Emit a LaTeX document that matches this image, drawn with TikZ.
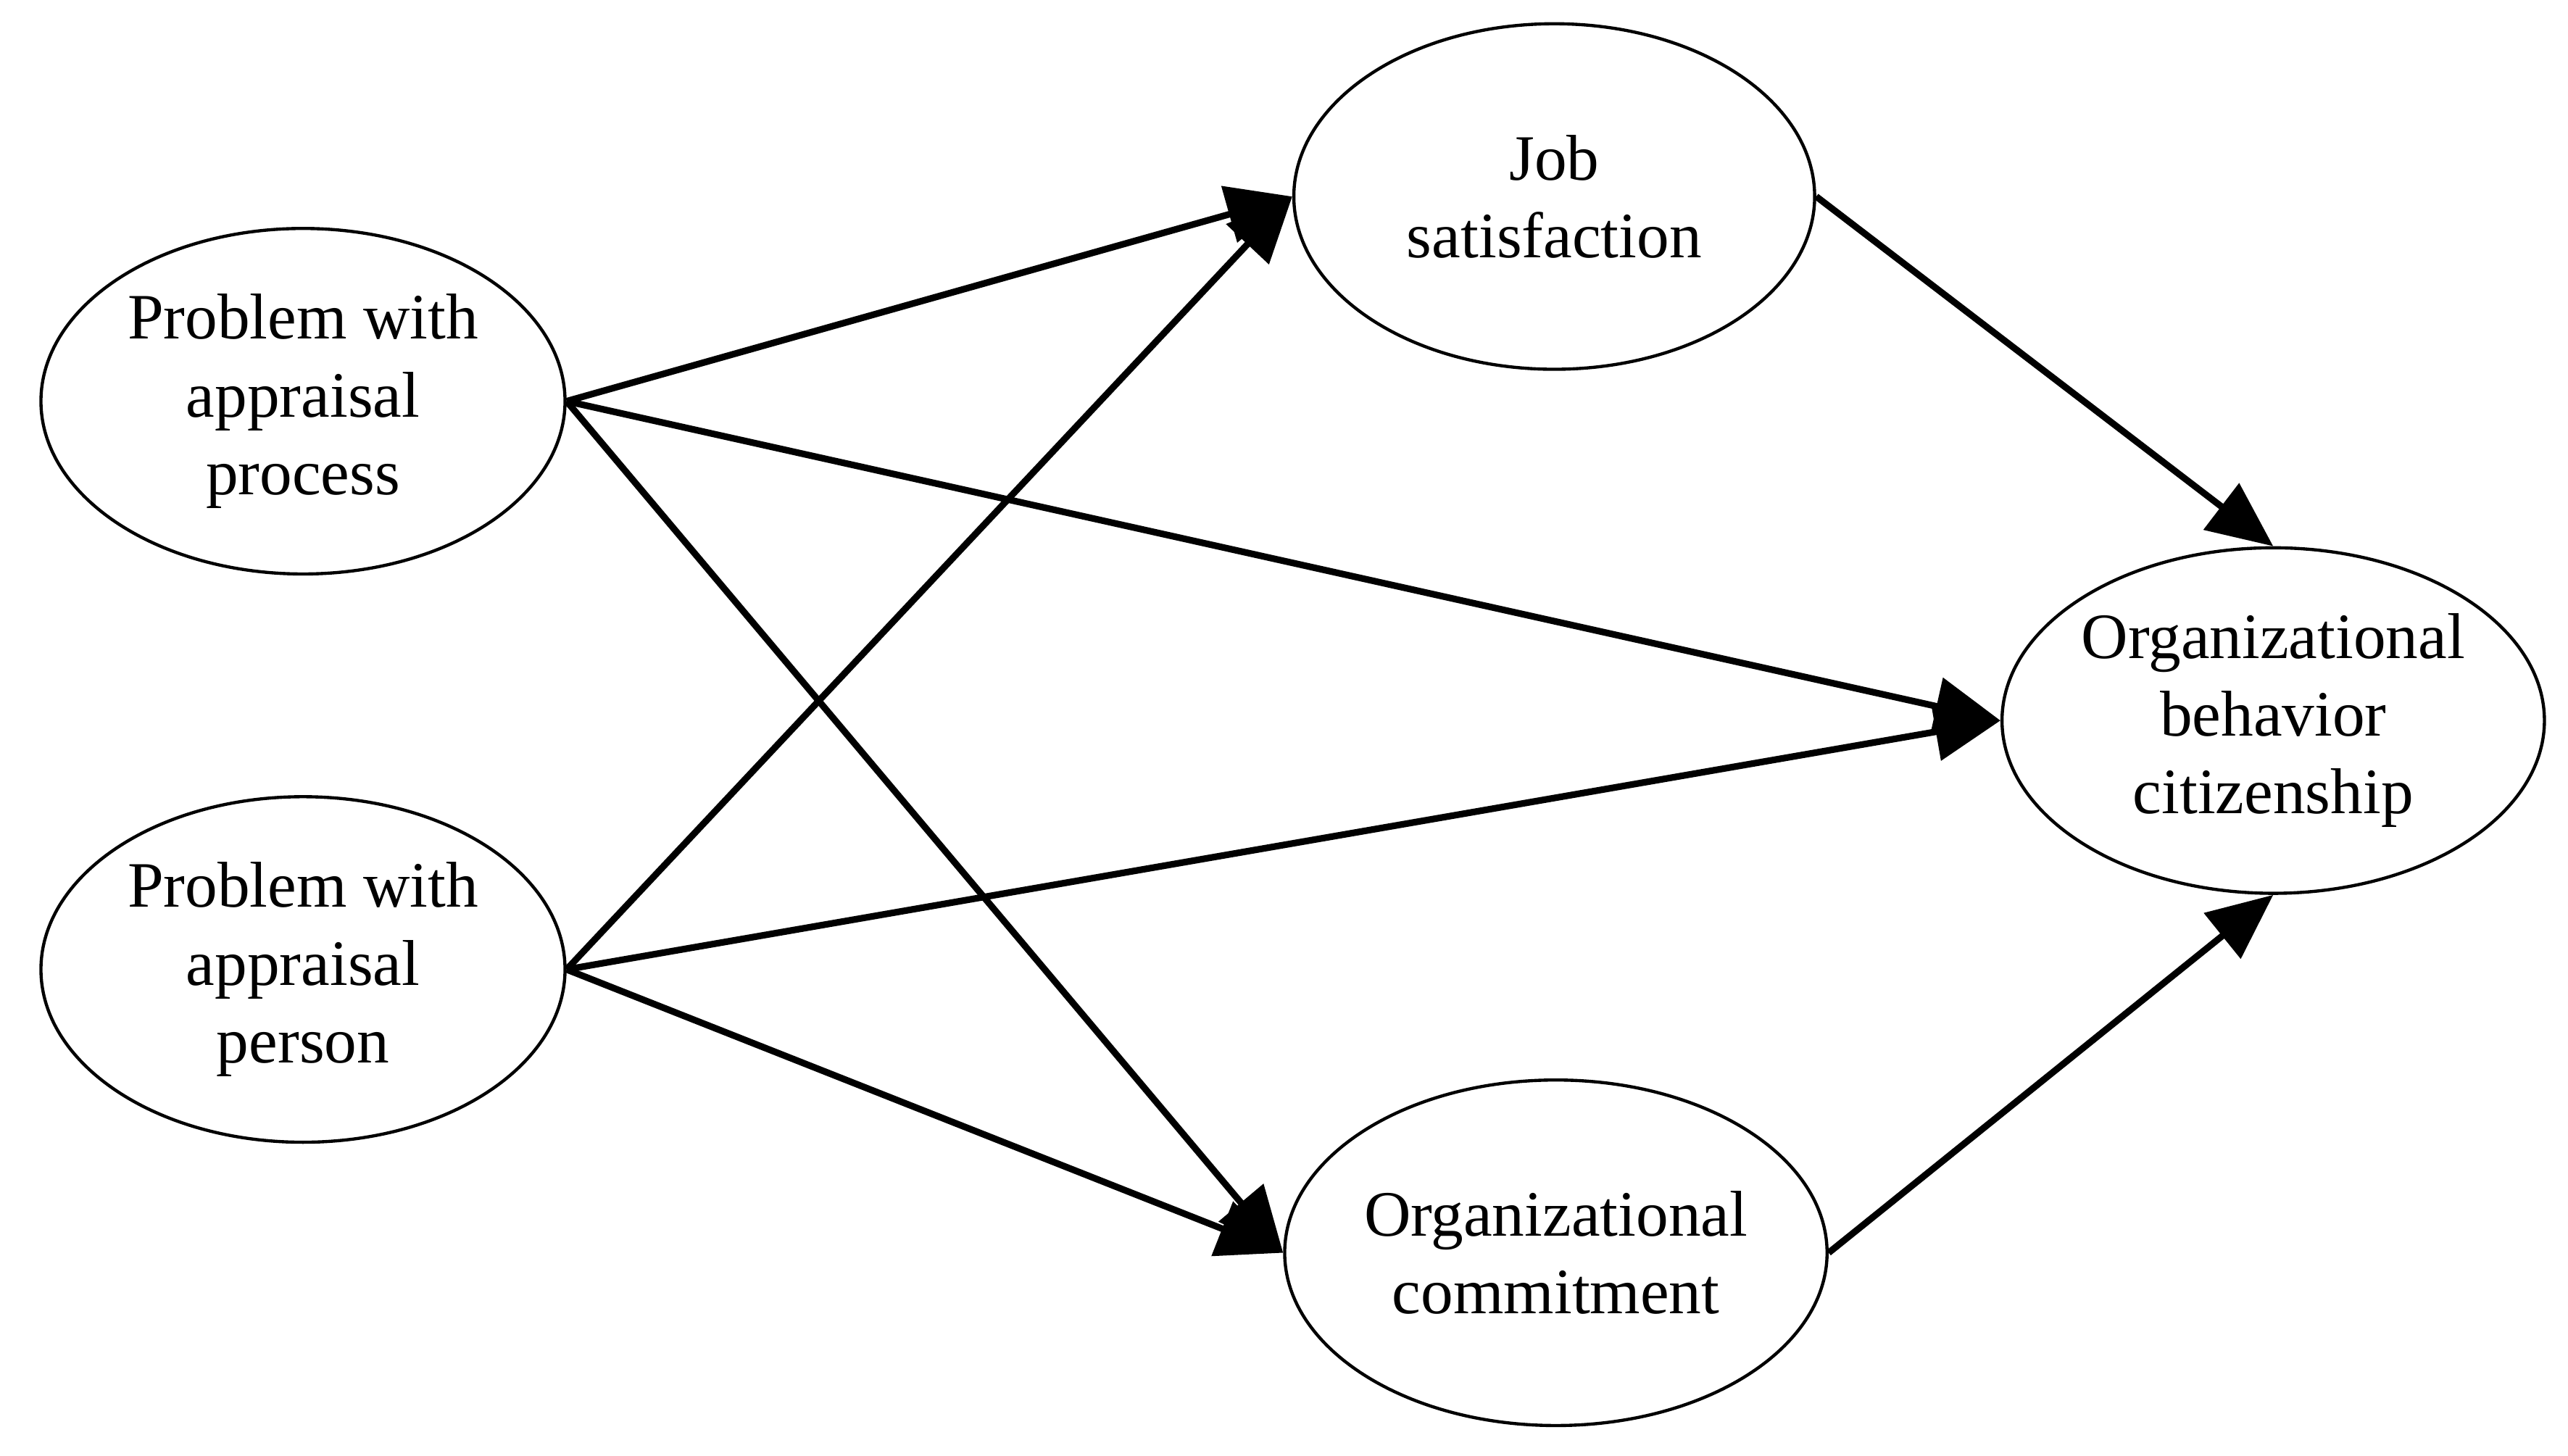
\documentclass[tikz,border=0pt]{standalone}
\usepackage{fontspec}
\setmainfont{Liberation Serif}
\usetikzlibrary{shapes.geometric,arrows.meta}
\begin{document}
\begin{tikzpicture}[x=0.02cm,y=-0.02cm,
  el/.style={ellipse,draw,line width=1.1pt,minimum width=320*0.02cm,minimum height=211*0.02cm,align=center,inner sep=0pt,font=\fontsize{22.5}{27}\selectfont},
  ar/.style={line width=2.3pt,-{Triangle[length=0.8cm,width=0.7cm]}}]
\useasboundingbox (0,0) rectangle (1568,889);
\node[el] (p1) at (185,245) {Problem with\\appraisal\\process};
\node[el] (p2) at (185,592) {Problem with\\appraisal\\person};
\node[el,minimum width=318*0.02cm] (job) at (949,120) {Job\\satisfaction};
\node[el] (oc) at (950,765) {Organizational\\commitment};
\node[el] (ocb) at (1388,440) {Organizational\\behavior\\citizenship};
\draw[ar] (p1.east) -- (job.west);
\draw[ar] (p1.east) -- (ocb.west);
\draw[ar] (p1.east) -- (oc.west);
\draw[ar] (p2.east) -- (job.west);
\draw[ar] (p2.east) -- (ocb.west);
\draw[ar] (p2.east) -- (oc.west);
\draw[ar] (job.east) -- (ocb.north);
\draw[ar] (oc.east) -- (ocb.south);
\end{tikzpicture}
\end{document}
